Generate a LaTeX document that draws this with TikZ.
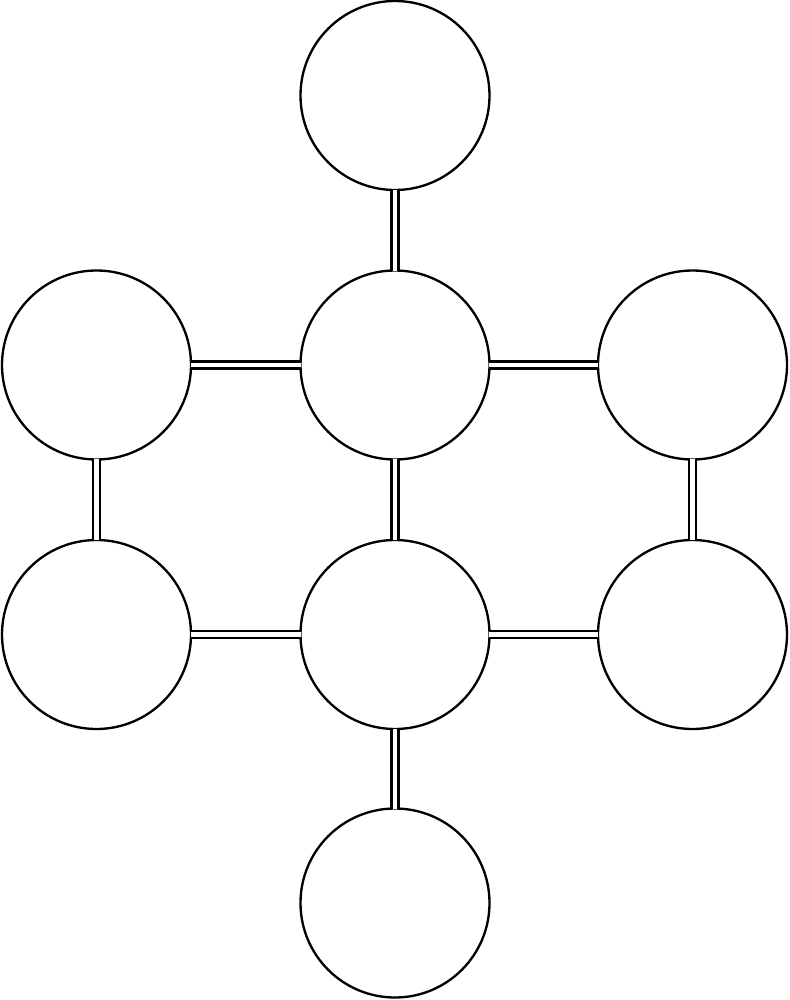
\documentclass[tikz,border=0pt]{standalone}
\usepackage{amsmath, amssymb}
\usepackage{xcolor}
\usepackage{tikz}

\begin{document}
\begin{tikzpicture}[
  ball/.style={draw, circle, line width=0.07cm, inner sep=0pt, minimum size=5.67cm, fill=white},
  link/.style={line width=0.07cm, double=white, double distance=0.14cm, shorten <=-0.04cm, shorten >=-0.04cm}
]
\useasboundingbox (0, 0) rectangle (23.67, -30);

\node[ball] (top) at (11.85, -2.865) {};
\node[ball] (ml) at (2.895, -10.95) {};
\node[ball] (mc) at (11.85, -10.95) {};
\node[ball] (mr) at (20.775, -10.95) {};
\node[ball] (ll) at (2.895, -19.035) {};
\node[ball] (lc) at (11.85, -19.035) {};
\node[ball] (lr) at (20.775, -19.035) {};
\node[ball] (bot) at (11.85, -27.09) {};

\draw[link] (top) -- (mc);
\draw[link] (ml) -- (mc);
\draw[link] (mc) -- (mr);
\draw[link] (ml) -- (ll);
\draw[link] (mc) -- (lc);
\draw[link] (mr) -- (lr);
\draw[link] (ll) -- (lc);
\draw[link] (lc) -- (lr);
\draw[link] (lc) -- (bot);
\end{tikzpicture}
\end{document}
